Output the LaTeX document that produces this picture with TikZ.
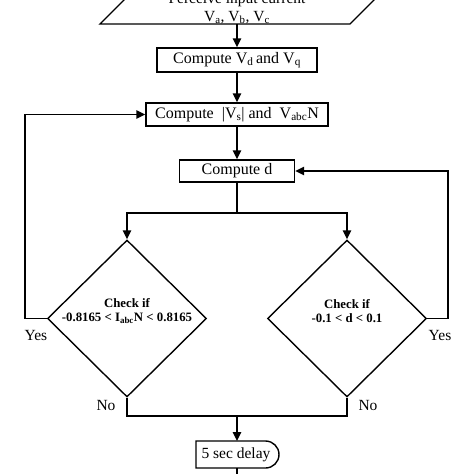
\documentclass[tikz,border=0pt]{standalone}
\usepackage{fontspec}
\setmainfont{Liberation Serif}
\usetikzlibrary{arrows.meta,shapes.geometric}
\tikzset{
  conn/.style={line width=1.4pt},
  arr/.style={conn,-{Triangle[length=9pt,width=8.5pt]}},
  procbox/.style={draw,line width=1.4pt,rectangle,inner sep=0pt,font=\fontsize{16}{18}\selectfont},
  decis/.style={draw,line width=1.4pt,diamond,inner sep=0pt},
  dectext/.style={align=center,font=\bfseries\fontsize{12.8}{14.8}\selectfont},
  lbl/.style={font=\fontsize{15.5}{17}\selectfont,inner sep=0pt}
}
\begin{document}
\begin{tikzpicture}[x=1pt,y=-1pt]
\useasboundingbox (0,0) rectangle (474,474);
% input parallelogram
\draw[line width=1.4pt] (100,24) -- (350,24) -- (395,-21) -- (145,-21) -- cycle;
\node[lbl,anchor=base] (in1) at (237,3) {Perceive input current};
\node[lbl,anchor=base] (in2) at (237,21) {V\textsubscript{a}, V\textsubscript{b}, V\textsubscript{c}};
\coordinate (inb) at (237,24);
% boxes
\node[procbox,minimum width=160pt,minimum height=24pt] (b1) at (237,60) {Compute V\textsubscript{d}\,and V\textsubscript{q}};
\node[procbox,minimum width=182pt,minimum height=23pt] (b2) at (237,114.5) {Compute\ \ |V\textsubscript{s}| and\ \ V\textsubscript{abc}N};
\node[procbox,minimum width=115pt,minimum height=22pt] (b3) at (237,171) {Compute d};
% decisions
\node[decis,minimum width=159pt,minimum height=157pt] (d1) at (127,318.5) {};
\node[dectext] (t1) at (127,311) {Check if\\-0.8165 < I\textsubscript{abc}N < 0.8165};
\node[decis,minimum width=159pt,minimum height=157pt] (d2) at (347,318.5) {};
\node[dectext] (t2) at (347,311) {Check if\\-0.1 < d < 0.1};
% delay
\draw[line width=1.4pt] (196,441) -- (265.5,441) arc[start angle=-90,end angle=90,radius=13.5] -- (196,468) -- cycle;
\node[lbl] (dl) at (236,454.5) {5 sec delay};
\coordinate (dlt) at (237,441);
\coordinate (dlb) at (237,468);
% labels
\node[lbl,anchor=base] (y1) at (36,340) {Yes};
\node[lbl,anchor=base] (y2) at (440,340) {Yes};
\node[lbl,anchor=base] (n1) at (106,410) {No};
\node[lbl,anchor=base] (n2) at (368,410) {No};
% coordinates
\coordinate (split) at (237,213);
\coordinate (join) at (237,416);
\coordinate (lloop) at (25,318.5);
\coordinate (rloop) at (448,318.5);
\coordinate (outb) at (237,474);
% connectors
\draw[arr] (inb) -- (b1.north);
\draw[arr] (b1.south) -- (b2.north);
\draw[arr] (b2.south) -- (b3.north);
\draw[conn] (b3.south) -- (split);
\draw[arr] (split) -| (d1.north);
\draw[arr] (split) -| (d2.north);
\draw[arr] (d1.west) -- (lloop) |- (b2.west);
\draw[arr] (d2.east) -- (rloop) |- (b3.east);
\draw[conn] (d1.south) |- (join) -| (d2.south);
\draw[arr] (join) -- (dlt);
\draw[conn] (dlb) -- (outb);
\end{tikzpicture}
\end{document}
